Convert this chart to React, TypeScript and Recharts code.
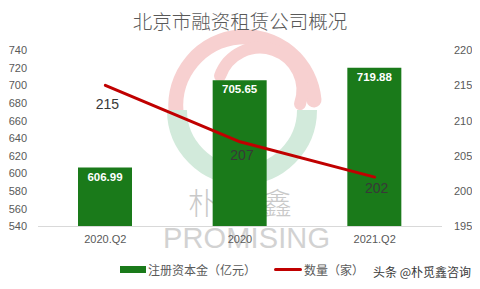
import React from 'react';
import { ComposedChart, Bar, Line, XAxis, YAxis, LabelList } from 'recharts';

const categories = ['2020.Q2', '2020', '2021.Q2'];
const capitalValues = [606.99, 705.65, 719.88];
const countValues = [215, 207, 202];
const leftTicks = [540, 560, 580, 600, 620, 640, 660, 680, 700, 720, 740];
const rightTicks = [195, 200, 205, 210, 215, 220];

const titleText = '北京市融资租赁公司概况';
const barSeriesName = '注册资本金（亿元）';
const lineSeriesName = '数量（家）';
const sourceText = '头条 @朴觅鑫咨询';

const data = categories.map((c, i) => ({ name: c, capital: capitalValues[i], count: countValues[i] }));

const GREEN = '#1a7a1a';
const RED = '#c00000';
const AXIS_TEXT = '#595959';
const NUM_FONT = '"Liberation Sans", Arial, sans-serif';
const CJK_FONT = '"Noto Sans CJK SC", "Noto Sans", sans-serif';

const lineLabelDy = [19, 13, 11];

const LineLabel = (props: any) => {
  const { x, y, value } = props;
  let idx = typeof props.index === 'number' ? props.index : countValues.indexOf(Number(value));
  if (idx < 0) idx = 0;
  return (
    <text
      x={Number(x) + 2}
      y={Number(y) + lineLabelDy[idx]}
      textAnchor="middle"
      dominantBaseline="central"
      fill="#383838"
      fontSize={14}
      fontFamily={NUM_FONT}
    >
      {value}
    </text>
  );
};

const Watermark = () => (
  <svg width={480} height={289} style={{ position: 'absolute', left: 0, top: 0 }}>
    <path d="M 176 112 A 68 68 0 1 1 314 100" fill="none" stroke="#f7d0d0" strokeWidth={15} strokeLinecap="round" />
    <path d="M 220 76 A 40 40 0 0 1 300 104" fill="none" stroke="#f7d0d0" strokeWidth={12} strokeLinecap="round" />
    <path d="M 177 110 A 65 65 0 0 0 307 110" fill="none" stroke="#d2eadb" strokeWidth={20} />
    <text x={203} y={214} textAnchor="middle" fontSize={30} fill="#c9c9c9" fontFamily={CJK_FONT} fontWeight={300}>朴</text>
    <text x={240} y={214} textAnchor="middle" fontSize={30} fill="#c9c9c9" fontFamily={CJK_FONT} fontWeight={300}>觅</text>
    <text x={277} y={214} textAnchor="middle" fontSize={30} fill="#c9c9c9" fontFamily={CJK_FONT} fontWeight={300}>鑫</text>
    <text x={163} y={248} textLength={167} lengthAdjust="spacing" fontSize={29} fill="#d2d2d2" fontFamily={'"Liberation Sans", sans-serif'}>PROMISING</text>
  </svg>
);

export default function App() {
  return (
    <div style={{ position: 'relative', width: 480, height: 289, margin: -8, background: '#fff', overflow: 'hidden' }}>
      <Watermark />
      <div
        style={{
          position: 'absolute', left: 0, top: 8, width: 480, textAlign: 'center',
          fontSize: 19.5, color: AXIS_TEXT, fontFamily: CJK_FONT, fontWeight: 300, lineHeight: '26px',
        }}
      >
        {titleText}
      </div>
      <div style={{ position: 'absolute', left: 0, top: 0 }}>
        <ComposedChart width={480} height={289} data={data} margin={{ top: 50, right: 0, bottom: 32.5, left: 0 }}>
          <XAxis
            dataKey="name"
            axisLine={{ stroke: '#d9d9d9' }}
            tickLine={false}
            tickSize={0}
            tickMargin={9}
            height={30}
            tick={{ fill: AXIS_TEXT, fontSize: 11, fontFamily: NUM_FONT }}
          />
          <YAxis
            yAxisId="left"
            domain={[540, 740]}
            ticks={leftTicks}
            axisLine={false}
            tickLine={false}
            tickSize={0}
            tickMargin={11}
            width={38}
            interval={0}
            tick={{ fill: AXIS_TEXT, fontSize: 11, fontFamily: NUM_FONT }}
          />
          <YAxis
            yAxisId="right"
            orientation="right"
            domain={[195, 220]}
            ticks={rightTicks}
            axisLine={false}
            tickLine={false}
            tickSize={0}
            tickMargin={12}
            width={38}
            interval={0}
            tick={{ fill: AXIS_TEXT, fontSize: 11, fontFamily: NUM_FONT }}
          />
          <Bar yAxisId="left" dataKey="capital" name={barSeriesName} fill={GREEN} barSize={54} isAnimationActive={false}>
            <LabelList
              dataKey="capital"
              position="insideTop"
              offset={5}
              fill="#ffffff"
              fontSize={11.5}
              fontWeight="bold"
              fontFamily={NUM_FONT}
              formatter={(v: any) => Number(v).toFixed(2)}
            />
          </Bar>
          <Line
            yAxisId="right"
            type="linear"
            dataKey="count"
            name={lineSeriesName}
            stroke={RED}
            strokeWidth={3}
            dot={false}
            activeDot={false}
            strokeLinejoin="round"
            strokeLinecap="round"
            isAnimationActive={false}
          >
            <LabelList dataKey="count" content={<LineLabel />} />
          </Line>
        </ComposedChart>
      </div>
      <div style={{ position: 'absolute', left: 0, top: 261, width: 480, height: 18, fontFamily: CJK_FONT, fontSize: 12, color: AXIS_TEXT }}>
        <div style={{ position: 'absolute', left: 120, top: 5, width: 26, height: 7, background: GREEN }} />
        <div style={{ position: 'absolute', left: 148, top: 0, lineHeight: '18px', whiteSpace: 'nowrap' }}>{barSeriesName}</div>
        <div style={{ position: 'absolute', left: 274, top: 7, width: 28, height: 3, background: RED, borderRadius: 1.5 }} />
        <div style={{ position: 'absolute', left: 304, top: 0, lineHeight: '18px', whiteSpace: 'nowrap' }}>{lineSeriesName}</div>
      </div>
      <div
        style={{
          position: 'absolute', left: 373, top: 264, fontFamily: CJK_FONT, fontSize: 12, color: '#3a3a3a',
          lineHeight: '16px', whiteSpace: 'nowrap', textShadow: '0 0 2px #fff',
        }}
      >
        {sourceText}
      </div>
      <div style={{ position: 'absolute', left: 0, top: 0, width: 477, height: 286, border: '1.5px solid #d9d9d9', pointerEvents: 'none' }} />
    </div>
  );
}
